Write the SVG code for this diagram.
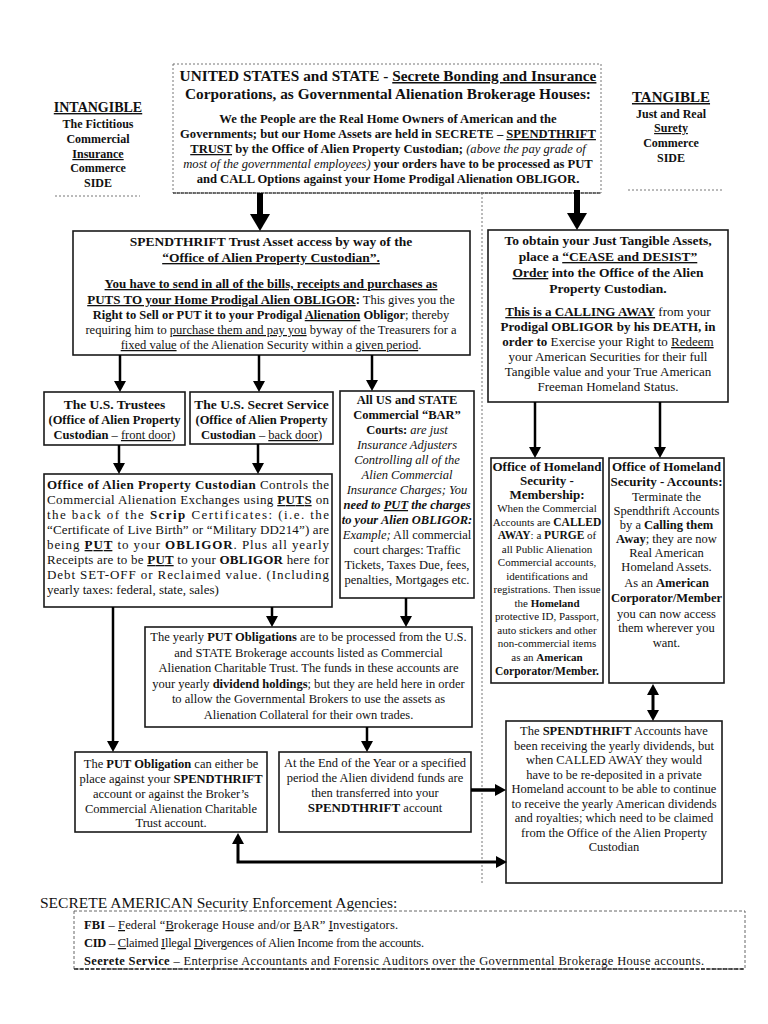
<svg xmlns="http://www.w3.org/2000/svg" width="768" height="1024" viewBox="0 0 768 1024">
<style>
.t{font-family:"Liberation Serif","Times New Roman",serif;fill:#111}
.b{font-weight:bold}
.i{font-style:italic}
.u{text-decoration:underline}
.box{fill:#fff;stroke:#1a1a1a;stroke-width:1.6}
.c{text-anchor:middle}
.dot{fill:none;stroke:#777;stroke-width:1;stroke-dasharray:2 2}
.ln{fill:none;stroke:#000}
</style>
<defs>
<marker id="big" markerUnits="userSpaceOnUse" markerWidth="18" markerHeight="20" refX="0" refY="10" orient="auto"><path d="M0,0 L17,10 L0,20 z" fill="#000"/></marker>
<marker id="sm" markerUnits="userSpaceOnUse" markerWidth="11" markerHeight="12" refX="0" refY="6" orient="auto"><path d="M0,0 L11,6 L0,12 z" fill="#000"/></marker>
<marker id="sm2" markerUnits="userSpaceOnUse" markerWidth="11" markerHeight="12" refX="0" refY="6" orient="auto-start-reverse"><path d="M0,0 L11,6 L0,12 z" fill="#000"/></marker>
</defs>
<rect width="768" height="1024" fill="#fff"/>

<g id="separators">
<rect x="173" y="64" width="428" height="129" class="dot" stroke="#d0d0d0"/>
<line x1="173" y1="193" x2="601" y2="193" stroke="#444" stroke-width="1.4" stroke-dasharray="3 1"/>
<line x1="55" y1="196" x2="140" y2="196" class="dot"/>
<line x1="628" y1="190" x2="722" y2="190" class="dot"/>
<line x1="482" y1="193" x2="482" y2="885" class="dot" stroke="#999"/>
</g>

<g id="header">
<text class="t b c" x="388" y="81" font-size="15.3">UNITED STATES and STATE - <tspan class="u">Secrete Bonding and Insurance</tspan></text>
<text class="t b c" x="388" y="99" font-size="15.3">Corporations, as Governmental Alienation Brokerage Houses:</text>
<text class="t b c" x="388" y="123" font-size="12.6">We the People are the Real Home Owners of American and the</text>
<text class="t b c" x="388" y="138" font-size="12.6">Governments; but our Home Assets are held in SECRETE – <tspan class="u">SPENDTHRIFT</tspan></text>
<text class="t b c" x="388" y="153" font-size="12.6"><tspan class="u">TRUST</tspan> by the Office of Alien Property Custodian; <tspan font-weight="normal" class="i">(above the pay grade of</tspan></text>
<text class="t b c" x="388" y="168" font-size="12.6"><tspan font-weight="normal" class="i">most of the governmental employees)</tspan> your orders have to be processed as PUT</text>
<text class="t b c" x="388" y="183" font-size="12.6">and CALL Options against your Home Prodigal Alienation OBLIGOR.</text>
</g>

<g id="intangible">
<text class="t b c u" x="98" y="112" font-size="14">INTANGIBLE</text>
<text class="t b c" x="98" y="128" font-size="12">The Fictitious</text>
<text class="t b c" x="98" y="143" font-size="12">Commercial</text>
<text class="t b c u" x="98" y="158" font-size="12">Insurance</text>
<text class="t b c" x="98" y="172" font-size="12">Commerce</text>
<text class="t b c" x="98" y="187" font-size="12">SIDE</text>
</g>

<g id="tangible">
<text class="t b c u" x="671" y="102" font-size="15">TANGIBLE</text>
<text class="t b c" x="671" y="118" font-size="12">Just and Real</text>
<text class="t b c u" x="671" y="132" font-size="12">Surety</text>
<text class="t b c" x="671" y="147" font-size="12">Commerce</text>
<text class="t b c" x="671" y="162" font-size="12">SIDE</text>
</g>

<g id="spendthrift-trust">
<rect class="box" x="73" y="231" width="397" height="124"/>
<text class="t b c" x="271" y="246" font-size="13.5">SPENDTHRIFT Trust Asset access by way of the</text>
<text class="t b c u" x="271" y="262" font-size="13.5">“Office of Alien Property Custodian”.</text>
<text class="t b c u" x="271" y="288" font-size="13">You have to send in all of the bills, receipts and purchases as</text>
<text class="t c" x="271" y="304" font-size="12.5"><tspan class="b u" font-size="13">PUTS TO your Home Prodigal Alien OBLIGOR</tspan><tspan class="b">:</tspan> This gives you the</text>
<text class="t c" x="271" y="319" font-size="12.5"><tspan class="b">Right to Sell or PUT it to your Prodigal <tspan class="u">Alienation</tspan> Obligor</tspan>; thereby</text>
<text class="t c" x="271" y="334" font-size="12.5">requiring him to <tspan class="u">purchase them and pay you</tspan> byway of the Treasurers for a</text>
<text class="t c" x="271" y="349" font-size="12.5"><tspan class="u">fixed value</tspan> of the Alienation Security within a <tspan class="u">given period</tspan>.</text>
</g>

<g id="cease-desist">
<rect class="box" x="488" y="230" width="240" height="172"/>
<text class="t b c" x="608" y="245" font-size="13.5">To obtain your Just Tangible Assets,</text>
<text class="t b c" x="608" y="261" font-size="13.5">place a <tspan class="u">“CEASE and DESIST”</tspan></text>
<text class="t b c" x="608" y="277" font-size="13.5"><tspan class="u">Order</tspan> into the Office of the Alien</text>
<text class="t b c" x="608" y="293" font-size="13.5">Property Custodian.</text>
<text class="t c" x="608" y="316" font-size="13"><tspan class="b u">This is a CALLING AWAY</tspan> from your</text>
<text class="t b c" x="608" y="331" font-size="13">Prodigal OBLIGOR by his DEATH, in</text>
<text class="t c" x="608" y="346" font-size="13"><tspan class="b">order to</tspan> Exercise your Right to <tspan class="u">Redeem</tspan></text>
<text class="t c" x="608" y="361" font-size="13">your American Securities for their full</text>
<text class="t c" x="608" y="376" font-size="13">Tangible value and your True American</text>
<text class="t c" x="608" y="391" font-size="13">Freeman Homeland Status.</text>
</g>

<g id="us-trustees">
<rect class="box" x="44" y="392" width="141" height="53"/>
<text class="t b c" x="114.5" y="409" font-size="13.5">The U.S. Trustees</text>
<text class="t b c" x="114.5" y="424" font-size="12.5">(Office of Alien Property</text>
<text class="t c" x="114.5" y="439" font-size="12.5"><tspan class="b">Custodian</tspan> – <tspan class="u">front door</tspan>)</text>
</g>

<g id="us-secret-service">
<rect class="box" x="190" y="392" width="143" height="52"/>
<text class="t b c" x="261.5" y="409" font-size="13.5">The U.S. Secret Service</text>
<text class="t b c" x="261.5" y="424" font-size="12.5">(Office of Alien Property</text>
<text class="t c" x="261.5" y="439" font-size="12.5"><tspan class="b">Custodian</tspan> – <tspan class="u">back door</tspan>)</text>
</g>

<g id="bar-courts">
<rect class="box" x="340" y="391" width="134" height="207"/>
<text class="t b c" x="407" y="404" font-size="12.5">All US and STATE</text>
<text class="t b c" x="407" y="419" font-size="12.5">Commercial “BAR”</text>
<text class="t c" x="407" y="434" font-size="12.5"><tspan class="b">Courts:</tspan> <tspan class="i">are just</tspan></text>
<text class="t c i" x="407" y="449" font-size="12.5">Insurance Adjusters</text>
<text class="t c i" x="407" y="464" font-size="12.5">Controlling all of the</text>
<text class="t c i" x="407" y="479" font-size="12.5">Alien Commercial</text>
<text class="t c i" x="407" y="494" font-size="12.5">Insurance Charges; You</text>
<text class="t c i b" x="407" y="509" font-size="12.5">need to <tspan class="u">PUT</tspan> the charges</text>
<text class="t c i b" x="407" y="524" font-size="12.5">to your Alien OBLIGOR:</text>
<text class="t c" x="407" y="539" font-size="12.5"><tspan class="i">Example;</tspan> All commercial</text>
<text class="t c" x="407" y="554" font-size="12.5">court charges: Traffic</text>
<text class="t c" x="407" y="569" font-size="12.5">Tickets, Taxes Due, fees,</text>
<text class="t c" x="407" y="584" font-size="12.5">penalties, Mortgages etc.</text>
</g>

<g id="alien-property-custodian">
<rect class="box" x="44" y="474" width="288" height="133"/>
<text class="t" x="47" y="489" font-size="13" textLength="282" lengthAdjust="spacing"><tspan class="b">Office of Alien Property Custodian</tspan> Controls the</text>
<text class="t" x="47" y="504" font-size="13" textLength="282" lengthAdjust="spacing">Commercial Alienation Exchanges using <tspan class="b u">PUTS</tspan> on</text>
<text class="t" x="47" y="519" font-size="13" textLength="282" lengthAdjust="spacing">the back of the <tspan class="b">Scrip</tspan> Certificates: (i.e. the</text>
<text class="t" x="47" y="534" font-size="13" textLength="282" lengthAdjust="spacing">“Certificate of Live Birth” or “Military DD214”) are</text>
<text class="t" x="47" y="549" font-size="13" textLength="282" lengthAdjust="spacing">being <tspan class="b u">PUT</tspan> to your <tspan class="b">OBLIGOR</tspan>. Plus all yearly</text>
<text class="t" x="47" y="564" font-size="13" textLength="282" lengthAdjust="spacing">Receipts are to be <tspan class="b u">PUT</tspan> to your <tspan class="b">OBLIGOR</tspan> here for</text>
<text class="t" x="47" y="579" font-size="13" textLength="282" lengthAdjust="spacing">Debt SET-OFF or Reclaimed value. (Including</text>
<text class="t" x="47" y="594" font-size="13">yearly taxes: federal, state, sales)</text>
</g>

<g id="homeland-membership">
<rect class="box" x="491" y="458" width="112" height="225"/>
<text class="t b c" x="547" y="471" font-size="13">Office of Homeland</text>
<text class="t b c" x="547" y="484.5" font-size="13">Security -</text>
<text class="t b c" x="547" y="498.5" font-size="13">Membership:</text>
<text class="t c" x="547" y="512" font-size="11">When the Commercial</text>
<text class="t c" x="547" y="525.5" font-size="11">Accounts are <tspan class="b" font-size="11.5">CALLED</tspan></text>
<text class="t c" x="547" y="539" font-size="11"><tspan class="b" font-size="11.5">AWAY</tspan>: a <tspan class="b" font-size="11.5">PURGE</tspan> of</text>
<text class="t c" x="547" y="552.5" font-size="11">all Public Alienation</text>
<text class="t c" x="547" y="566" font-size="11">Commercial accounts,</text>
<text class="t c" x="547" y="579.5" font-size="11">identifications and</text>
<text class="t c" x="547" y="593" font-size="11">registrations. Then issue</text>
<text class="t c" x="547" y="606.5" font-size="11">the <tspan class="b">Homeland</tspan></text>
<text class="t c" x="547" y="620" font-size="11">protective ID, Passport,</text>
<text class="t c" x="547" y="633.5" font-size="11">auto stickers and other</text>
<text class="t c" x="547" y="647" font-size="11">non-commercial items</text>
<text class="t c" x="547" y="660.5" font-size="11">as an <tspan class="b">American</tspan></text>
<text class="t b c" x="547" y="675" font-size="11.5">Corporator/Member.</text>
</g>

<g id="homeland-accounts">
<rect class="box" x="609" y="458" width="115" height="225"/>
<text class="t b c" x="666.5" y="471" font-size="13">Office of Homeland</text>
<text class="t b c" x="666.5" y="486" font-size="13">Security - Accounts:</text>
<text class="t c" x="666.5" y="501" font-size="12.5">Terminate the</text>
<text class="t c" x="666.5" y="515" font-size="12.5">Spendthrift Accounts</text>
<text class="t c" x="666.5" y="529" font-size="12.5">by a <tspan class="b">Calling them</tspan></text>
<text class="t c" x="666.5" y="543" font-size="12.5"><tspan class="b">Away</tspan>; they are now</text>
<text class="t c" x="666.5" y="557" font-size="12.5">Real American</text>
<text class="t c" x="666.5" y="571" font-size="12.5">Homeland Assets.</text>
<text class="t c" x="666.5" y="587" font-size="12.5">As an <tspan class="b">American</tspan></text>
<text class="t b c" x="666.5" y="602" font-size="12.5">Corporator/Member</text>
<text class="t c" x="666.5" y="618" font-size="12.5">you can now access</text>
<text class="t c" x="666.5" y="632" font-size="12.5">them wherever you</text>
<text class="t c" x="666.5" y="647" font-size="12.5">want.</text>
</g>

<g id="yearly-put">
<rect class="box" x="145" y="627" width="327" height="100"/>
<text class="t c" x="308.5" y="641" font-size="12.5">The yearly <tspan class="b">PUT Obligations</tspan> are to be processed from the U.S.</text>
<text class="t c" x="308.5" y="657" font-size="12.5">and STATE Brokerage accounts listed as Commercial</text>
<text class="t c" x="308.5" y="672" font-size="12.5">Alienation Charitable Trust. The funds in these accounts are</text>
<text class="t c" x="308.5" y="688" font-size="12.5">your yearly <tspan class="b">dividend holdings</tspan>; but they are held here in order</text>
<text class="t c" x="308.5" y="703" font-size="12.5">to allow the Governmental Brokers to use the assets as</text>
<text class="t c" x="308.5" y="719" font-size="12.5">Alienation Collateral for their own trades.</text>
</g>

<g id="put-obligation">
<rect class="box" x="75" y="752" width="192" height="80"/>
<text class="t c" x="171" y="768" font-size="12.5">The <tspan class="b">PUT Obligation</tspan> can either be</text>
<text class="t c" x="171" y="783" font-size="12.5">place against your <tspan class="b">SPENDTHRIFT</tspan></text>
<text class="t c" x="171" y="798" font-size="12.5">account or against the Broker’s</text>
<text class="t c" x="171" y="813" font-size="12.5">Commercial Alienation Charitable</text>
<text class="t c" x="171" y="827" font-size="12.5">Trust account.</text>
</g>

<g id="end-of-year">
<rect class="box" x="279" y="752" width="192" height="80"/>
<text class="t c" x="375" y="767" font-size="12.5">At the End of the Year or a specified</text>
<text class="t c" x="375" y="782" font-size="12.5">period the Alien dividend funds are</text>
<text class="t c" x="375" y="797" font-size="12.5">then transferred into your</text>
<text class="t c" x="375" y="812" font-size="12.5"><tspan class="b" font-size="13">SPENDTHRIFT</tspan> account</text>
</g>

<g id="spendthrift-accounts">
<rect class="box" x="506" y="721" width="216" height="162"/>
<text class="t c" x="614" y="735" font-size="12.5">The <tspan class="b">SPENDTHRIFT</tspan> Accounts have</text>
<text class="t c" x="614" y="750" font-size="12.5">been receiving the yearly dividends, but</text>
<text class="t c" x="614" y="764" font-size="12.5">when CALLED AWAY they would</text>
<text class="t c" x="614" y="779" font-size="12.5">have to be re-deposited in a private</text>
<text class="t c" x="614" y="793" font-size="12.5">Homeland account to be able to continue</text>
<text class="t c" x="614" y="808" font-size="12.5">to receive the yearly American dividends</text>
<text class="t c" x="614" y="822" font-size="12.5">and royalties; which need to be claimed</text>
<text class="t c" x="614" y="837" font-size="12.5">from the Office of the Alien Property</text>
<text class="t c" x="614" y="851" font-size="12.5">Custodian</text>
</g>

<g id="connectors">
<line class="ln" x1="260" y1="193" x2="260" y2="214" stroke-width="6" marker-end="url(#big)"/>
<line class="ln" x1="577" y1="190" x2="577" y2="213" stroke-width="6" marker-end="url(#big)"/>
<line class="ln" x1="120" y1="355" x2="120" y2="381" stroke-width="2.5" marker-end="url(#sm)"/>
<line class="ln" x1="259" y1="355" x2="259" y2="381" stroke-width="2.5" marker-end="url(#sm)"/>
<line class="ln" x1="372" y1="355" x2="372" y2="380" stroke-width="2.5" marker-end="url(#sm)"/>
<line class="ln" x1="119" y1="445" x2="119" y2="463" stroke-width="2.5" marker-end="url(#sm)"/>
<line class="ln" x1="258" y1="444" x2="258" y2="463" stroke-width="2.5" marker-end="url(#sm)"/>
<line class="ln" x1="113" y1="607" x2="113" y2="741" stroke-width="2.5" marker-end="url(#sm)"/>
<line class="ln" x1="272" y1="607" x2="272" y2="616" stroke-width="2.5" marker-end="url(#sm)"/>
<line class="ln" x1="406" y1="598" x2="406" y2="616" stroke-width="2.5" marker-end="url(#sm)"/>
<line class="ln" x1="367" y1="727" x2="367" y2="741" stroke-width="2.5" marker-end="url(#sm)"/>
<line class="ln" x1="535" y1="402" x2="535" y2="447" stroke-width="2.5" marker-end="url(#sm)"/>
<line class="ln" x1="660" y1="402" x2="660" y2="447" stroke-width="2.5" marker-end="url(#sm)"/>
<line class="ln" x1="653" y1="695" x2="653" y2="710" stroke-width="3" marker-start="url(#sm2)" marker-end="url(#sm2)"/>
<line class="ln" x1="471" y1="790" x2="495" y2="790" stroke-width="3.5" marker-end="url(#sm)"/>
<path class="ln" d="M238,844 V862 H496" stroke-width="3" marker-start="url(#sm2)" marker-end="url(#sm2)"/>
</g>

<g id="agencies">
<text class="t" x="40" y="908" font-size="15.5">SECRETE AMERICAN Security Enforcement Agencies:</text>
<rect x="74" y="911" width="671" height="58" fill="none" stroke="#666" stroke-width="1" stroke-dasharray="3 2"/>
<line x1="74" y1="969" x2="745" y2="969" stroke="#222" stroke-width="1.6" stroke-dasharray="4 1.5"/>
<text class="t" x="84" y="929" font-size="12.5" textLength="314" lengthAdjust="spacing"><tspan class="b">FBI</tspan> – <tspan class="u">F</tspan>ederal “<tspan class="u">B</tspan>rokerage House and/or <tspan class="u">B</tspan>AR” <tspan class="u">I</tspan>nvestigators.</text>
<text class="t" x="84" y="947" font-size="12.5" textLength="340" lengthAdjust="spacing"><tspan class="b">CID</tspan> – <tspan class="u">C</tspan>laimed <tspan class="u">I</tspan>llegal <tspan class="u">D</tspan>ivergences of Alien Income from the accounts.</text>
<text class="t" x="84" y="965" font-size="12.5" textLength="620" lengthAdjust="spacing"><tspan class="b">Seerete Service</tspan> – Enterprise Accountants and Forensic Auditors over the Governmental Brokerage House accounts.</text>
</g>
</svg>
